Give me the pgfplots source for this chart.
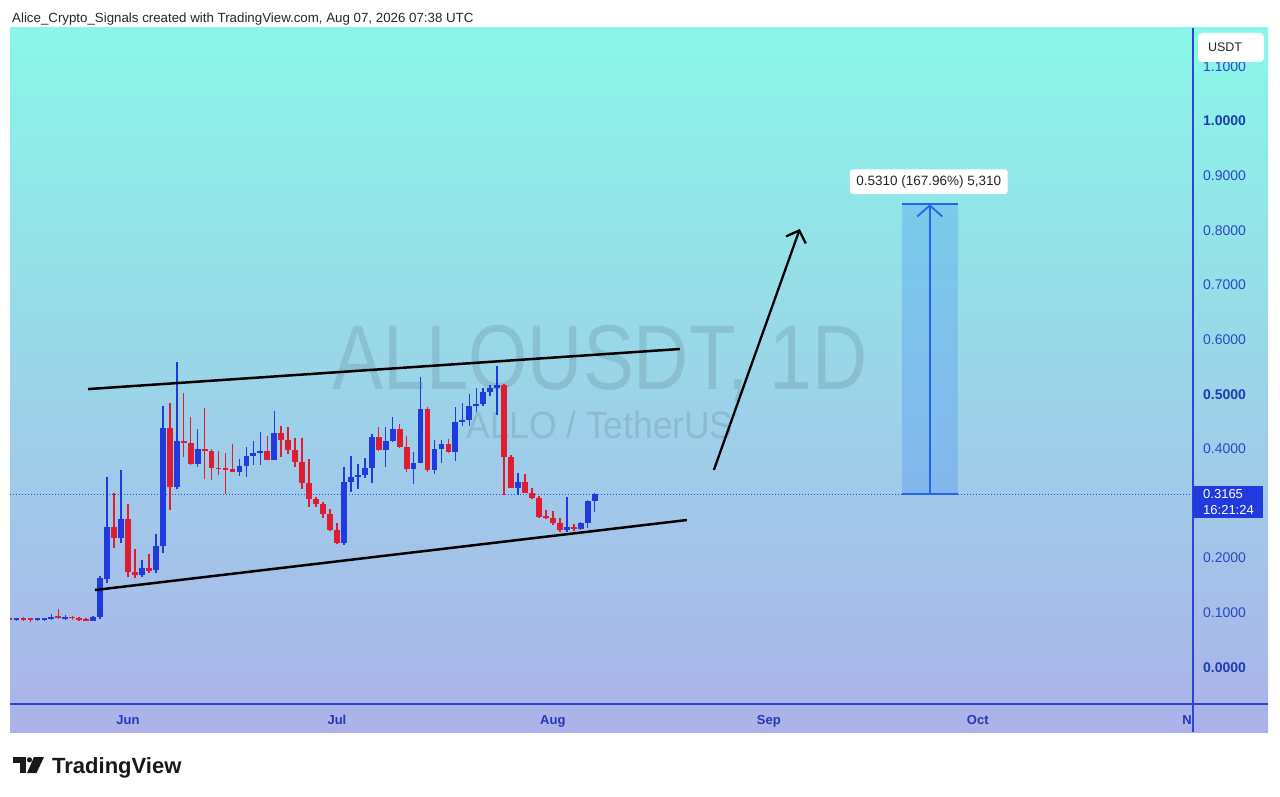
\documentclass[border=0pt]{standalone}
\usepackage{pgfplots}
\pgfplotsset{compat=1.18}
\usepackage{pgfplotstable}
\usepackage{fontspec}
\setmainfont{Liberation Sans}
\usetikzlibrary{arrows.meta}
\usepackage{graphicx}

\definecolor{cup}{RGB}{32,58,222}
\definecolor{cdn}{RGB}{226,28,48}
\definecolor{axblue}{RGB}{45,70,210}
\definecolor{tickblue}{RGB}{40,72,200}
\definecolor{tickbold}{RGB}{30,58,180}
\definecolor{monblue}{RGB}{40,52,185}
\definecolor{bgtop}{RGB}{137,247,232}
\definecolor{bgmid}{RGB}{152,212,232}
\definecolor{bgbot}{RGB}{172,178,233}
\definecolor{mblue}{RGB}{66,140,245}
\definecolor{mline}{RGB}{38,100,235}
\definecolor{wm}{RGB}{90,120,135}

% day index: 0 = Jun 1 ; rising (close >= open) candles
\pgfplotstableread{
d o h l c
-16 0.086 0.089 0.085 0.088
-13 0.086 0.089 0.085 0.087
-12 0.086 0.090 0.085 0.089
-11 0.088 0.097 0.087 0.092
-9 0.088 0.096 0.086 0.091
-5 0.085 0.094 0.084 0.091
-4 0.091 0.167 0.088 0.163
-3 0.161 0.348 0.154 0.256
-1 0.236 0.361 0.227 0.271
2 0.168 0.196 0.165 0.181
4 0.177 0.244 0.172 0.222
5 0.222 0.478 0.209 0.438
7 0.330 0.559 0.326 0.414
10 0.372 0.436 0.366 0.399
16 0.358 0.381 0.350 0.368
17 0.368 0.403 0.348 0.386
18 0.386 0.414 0.370 0.392
19 0.392 0.430 0.370 0.396
21 0.379 0.469 0.379 0.429
31 0.227 0.366 0.223 0.339
32 0.339 0.386 0.321 0.348
33 0.348 0.372 0.326 0.351
34 0.351 0.383 0.346 0.364
35 0.364 0.427 0.337 0.421
37 0.397 0.440 0.366 0.414
38 0.414 0.458 0.412 0.436
41 0.363 0.394 0.335 0.374
42 0.374 0.531 0.373 0.473
44 0.361 0.416 0.353 0.399
45 0.399 0.416 0.374 0.408
47 0.394 0.476 0.377 0.449
48 0.449 0.484 0.441 0.452
49 0.452 0.500 0.441 0.478
50 0.478 0.511 0.467 0.482
51 0.482 0.511 0.478 0.504
52 0.504 0.516 0.496 0.511
53 0.511 0.551 0.462 0.516
56 0.328 0.355 0.315 0.339
63 0.251 0.311 0.247 0.256
65 0.253 0.266 0.251 0.264
66 0.264 0.306 0.255 0.304
67 0.304 0.319 0.284 0.3165
}\uptab

% falling (close < open) candles
\pgfplotstableread{
d o h l c
-17 0.089 0.090 0.085 0.087
-15 0.089 0.091 0.085 0.087
-14 0.087 0.088 0.083 0.086
-10 0.093 0.106 0.088 0.089
-8 0.092 0.094 0.087 0.089
-7 0.089 0.091 0.085 0.086
-6 0.087 0.089 0.084 0.085
-2 0.256 0.319 0.218 0.236
0 0.271 0.299 0.165 0.174
1 0.174 0.216 0.163 0.168
3 0.181 0.207 0.172 0.176
6 0.438 0.484 0.288 0.330
8 0.414 0.502 0.385 0.410
9 0.410 0.458 0.370 0.372
11 0.399 0.474 0.344 0.396
12 0.396 0.400 0.342 0.365
13 0.365 0.396 0.352 0.362
14 0.363 0.392 0.317 0.361
15 0.362 0.408 0.358 0.358
20 0.396 0.423 0.379 0.379
22 0.429 0.441 0.385 0.416
23 0.416 0.440 0.390 0.397
24 0.397 0.419 0.366 0.375
25 0.375 0.419 0.326 0.337
26 0.337 0.381 0.293 0.308
27 0.308 0.311 0.293 0.299
28 0.299 0.302 0.273 0.280
29 0.280 0.289 0.249 0.251
30 0.251 0.264 0.225 0.227
36 0.421 0.440 0.396 0.397
39 0.436 0.445 0.401 0.403
40 0.403 0.423 0.357 0.363
43 0.473 0.476 0.357 0.361
46 0.408 0.418 0.392 0.394
54 0.516 0.518 0.315 0.385
55 0.385 0.388 0.328 0.328
57 0.339 0.353 0.318 0.319
58 0.319 0.328 0.308 0.310
59 0.310 0.313 0.273 0.275
60 0.275 0.288 0.271 0.273
61 0.273 0.286 0.260 0.264
62 0.264 0.273 0.247 0.251
64 0.256 0.262 0.249 0.253
}\dntab

\begin{document}
\begin{tikzpicture}
\path[use as bounding box] (0,0) rectangle (1280pt,-797pt);
\fill[white] (0,0) rectangle (1280pt,-797pt);
\shade[top color=bgtop, middle color=bgmid, bottom color=bgbot] (10pt,-28pt) rectangle (1268pt,-732pt);
\node[anchor=base west, inner sep=0, font=\fontsize{13.3}{15}\selectfont, text=black!85] at (12pt,-23pt) {Alice\_Crypto\_Signals created with TradingView.com, Aug 07, 2026 07:38 UTC};
% watermark
\node[anchor=base, inner sep=0, text=wm, text opacity=0.24, font=\fontsize{92}{92}\selectfont] at (600pt,-389pt) {\scalebox{0.83}[1]{ALLOUSDT, 1D}};
\node[anchor=base, inner sep=0, text=wm, text opacity=0.24, font=\fontsize{38}{38}\selectfont] at (600pt,-438pt) {\scalebox{0.93}[1]{ALLO / TetherUS}};
% scale lines
\draw[axblue, line width=1.2pt] (10pt,-704pt) -- (1268pt,-704pt);
\draw[axblue, line width=1.2pt] (1193pt,-28pt) -- (1193pt,-732pt);

\begin{axis}[
  at={(10pt,-704pt)}, anchor=south west,
  width=1183pt, height=676pt, scale only axis,
  xmin=-16.94, xmax=152.9, ymin=-0.06777, ymax=1.17033,
  axis x line*=bottom, axis y line*=right,
  axis line style={draw=none},
  major tick length=0pt,
  xtick={0,30,61,92,122}, xticklabels={Jun,Jul,Aug,Sep,Oct},
  xticklabel style={anchor=base, inner sep=0pt, yshift=-20pt, font=\fontsize{13}{15}\selectfont\bfseries, text=monblue},
  ytick={0,0.1,0.2,0.4,0.5,0.6,0.7,0.8,0.9,1.0,1.1},
  yticklabels={\textcolor{tickbold}{\textbf{0.0000}},0.1000,0.2000,0.4000,\textcolor{tickbold}{\textbf{0.5000}},0.6000,0.7000,0.8000,0.9000,\textcolor{tickbold}{\textbf{1.0000}},1.1000},
  yticklabel style={anchor=base west, inner sep=0pt, xshift=10pt, yshift=-5pt, font=\fontsize{14}{16}\selectfont, text=tickblue},
]
% current price line
\addplot[axblue, dotted, line width=1pt] coordinates {(-16.94,0.3165) (152.9,0.3165)};
% wicks
\addplot[draw=none, mark=none, error bars/.cd, y dir=plus, y explicit, error mark=none,
  error bar style={line width=1.5pt, draw=cup}]
  table[x=d, y=l, y error expr=\thisrow{h}-\thisrow{l}] {\uptab};
\addplot[draw=none, mark=none, error bars/.cd, y dir=plus, y explicit, error mark=none,
  error bar style={line width=1.5pt, draw=cdn}]
  table[x=d, y=l, y error expr=\thisrow{h}-\thisrow{l}] {\dntab};
% bodies
\addplot[draw=none, mark=none, error bars/.cd, y dir=plus, y explicit, error mark=none,
  error bar style={line width=5.8pt, draw=cup}]
  table[x=d, y=o, y error expr={max(\thisrow{c}-\thisrow{o},0.003)}] {\uptab};
\addplot[draw=none, mark=none, error bars/.cd, y dir=plus, y explicit, error mark=none,
  error bar style={line width=5.8pt, draw=cdn}]
  table[x=d, y=c, y error expr={max(\thisrow{o}-\thisrow{c},0.003)}] {\dntab};
% channel and projection
\addplot[black, line width=2.5pt] coordinates {(-5.74,0.509) (79.23,0.5824)};
\addplot[black, line width=2.5pt] coordinates {(-4.74,0.141) (80.24,0.2692)};
\addplot[black, line width=2.3pt, -{Straight Barb[length=10pt, width=21pt, line width=2.3pt]}] coordinates {(84.11,0.3608) (96.45,0.8022)};
% measure
\addplot[fill=mblue, fill opacity=0.3, draw=none] coordinates {(111.1,0.3165) (119.13,0.3165) (119.13,0.8475) (111.1,0.8475)} -- cycle;
\addplot[mline, line width=1.8pt] coordinates {(111.1,0.3165) (119.13,0.3165)};
\addplot[mline, line width=1.8pt] coordinates {(111.1,0.8475) (119.13,0.8475)};
\addplot[mline, line width=1.8pt, -{Straight Barb[length=11pt, width=25pt, line width=1.8pt]}] coordinates {(115.11,0.3165) (115.11,0.8475)};
\node[fill=white, rounded corners=3pt, inner xsep=6.5pt, inner ysep=6pt, font=\fontsize{13.5}{15}\selectfont, text=black!85] at (axis cs:114.97,0.889) {0.5310 (167.96\%) 5,310};
\end{axis}

\fill[white, rounded corners=4pt] (1198pt,-33pt) rectangle (1264pt,-62pt);
\node[inner sep=0, font=\fontsize{12.5}{14}\selectfont, text=black!85] at (1225pt,-47pt) {USDT};
\fill[cup] (1193pt,-486pt) rectangle (1263pt,-518pt);
\node[anchor=base west, inner sep=0, text=white, font=\fontsize{13}{14}\selectfont] at (1203pt,-498.5pt) {0.3165};
\node[anchor=base west, inner sep=0, text=white, font=\fontsize{13}{14}\selectfont] at (1203pt,-514.5pt) {16:21:24};
\node[anchor=base east, inner sep=0, text=monblue, font=\fontsize{13}{15}\selectfont\bfseries] at (1192pt,-724pt) {N};
% logo
\fill[black!90] (13pt,-757pt) rectangle (25.5pt,-762.5pt);
\fill[black!90] (19.5pt,-757pt) rectangle (25.5pt,-773pt);
\fill[black!90] (29.5pt,-759.8pt) circle (2.6pt);
\fill[black!90] (34pt,-757pt) -- (44pt,-757pt) -- (36.5pt,-773pt) -- (27pt,-773pt) -- cycle;
\node[anchor=base west, inner sep=0, text=black!90, font=\fontsize{22}{24}\selectfont\bfseries] at (52pt,-773pt) {TradingView};
\end{tikzpicture}
\end{document}
